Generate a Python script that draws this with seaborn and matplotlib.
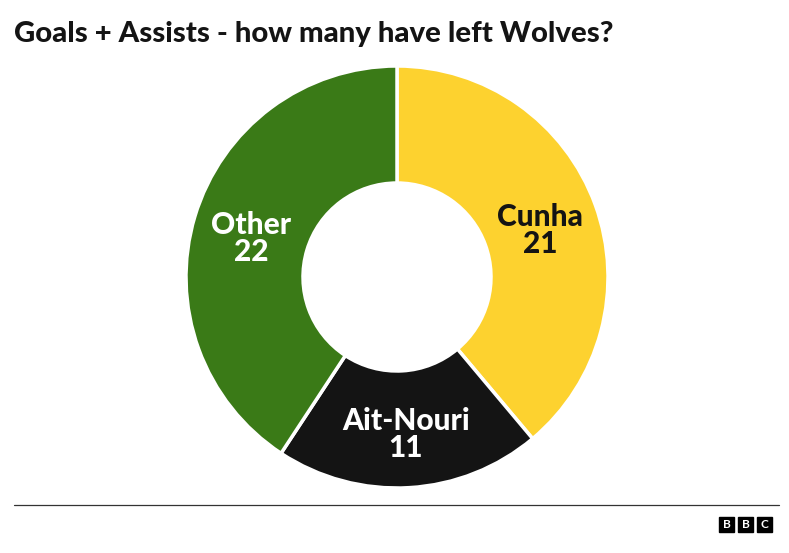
import matplotlib
matplotlib.use("Agg")
import matplotlib.pyplot as plt
import seaborn as sns
import numpy as np
from matplotlib.patches import Rectangle

players = ["Cunha", "Ait-Nouri", "Other"]
goals_assists = [21, 11, 22]
colours = ["#FDD22F", "#141414", "#3A7A17"]
label_colours = ["#141414", "white", "white"]

sns.set_theme(style="white")
plt.rcParams['font.family'] = ['Lato', 'DejaVu Sans']

fig = plt.figure(figsize=(7.89, 5.53), dpi=100)

# donut: centre ~ (397, 277) px, radius ~ 210 px
W, H = 789, 553
cx, cy, r = 397, 277, 211
ax = fig.add_axes([(cx - r) / W, 1 - (cy + r) / H, 2 * r / W, 2 * r / H])

wedges, _ = ax.pie(goals_assists, colors=colours, startangle=90, counterclock=False,
                   radius=1, wedgeprops=dict(width=1 - 94 / 211, edgecolor="white", linewidth=2.5))
ax.set_xlim(-1, 1)
ax.set_ylim(-1, 1)
ax.set_aspect("equal")
ax.axis("off")

mid_r = (1 + 94 / 211) / 2
total = sum(goals_assists)
start = 90
for name, val, col in zip(players, goals_assists, label_colours):
    span = val / total * 360
    mid = np.deg2rad(start - span / 2)
    start -= span
    ax.text(mid_r * np.cos(mid), mid_r * np.sin(mid) - 0.025, f"{name}\n{val}", ha="center", va="center",
            color=col, fontsize=21.5, fontweight="black", linespacing=0.95)

fig.text(14 / W, 1 - 34 / H, "Goals + Assists - how many have left Wolves?", ha="left", va="center",
         fontsize=21.2, fontweight="black", color="#141414")

# footer rule and logo
fig.add_artist(plt.Line2D([14 / W, 779 / W], [1 - 505 / H, 1 - 505 / H], color="#333333", linewidth=0.9))
for i, letter in enumerate("BBC"):
    x0 = 719 + i * 19
    fig.add_artist(Rectangle((x0 / W, 1 - 532 / H), 15 / W, 15 / H, color="black", transform=fig.transFigure))
    fig.text((x0 + 7.5) / W, 1 - 524.5 / H, letter, ha="center", va="center", color="white",
             fontsize=8.5, fontweight="bold")

fig.savefig("out.png", dpi=100, facecolor="white")
